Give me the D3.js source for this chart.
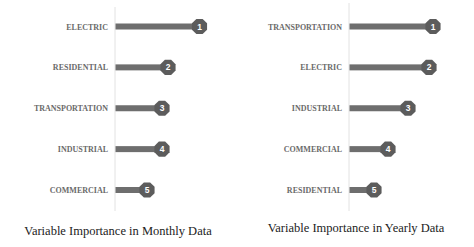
<!DOCTYPE html>
<html>
<head>
<meta charset="utf-8">
<script src="https://cdn.jsdelivr.net/npm/d3@7"></script>
<style>
  html, body { margin: 0; padding: 0; background: #fff; }
  svg { display: block; }
</style>
</head>
<body>
<svg id="chart" width="474" height="247"></svg>
<script>
// Variable importance, monthly model
const monthlyVars = ["ELECTRIC", "RESIDENTIAL", "TRANSPORTATION", "INDUSTRIAL", "COMMERCIAL"];
const monthlyScores = [84.5, 53, 47, 47, 32];
const monthlyRanks = [1, 2, 3, 4, 5];

// Variable importance, yearly model
const yearlyVars = ["TRANSPORTATION", "ELECTRIC", "INDUSTRIAL", "COMMERCIAL", "RESIDENTIAL"];
const yearlyScores = [84, 80, 59, 39, 25];
const yearlyRanks = [1, 2, 3, 4, 5];

const titles = ["Variable Importance in Monthly Data", "Variable Importance in Yearly Data"];

const svg = d3.select("#chart");

const panels = [
  { vars: monthlyVars, scores: monthlyScores, ranks: monthlyRanks, title: titles[0],
    axisX: 115, top: 7, bottom: 211, titleX: 118, titleY: 235 },
  { vars: yearlyVars, scores: yearlyScores, ranks: yearlyRanks, title: titles[1],
    axisX: 349, top: 3, bottom: 211, titleX: 356, titleY: 232 }
];

// regular octagon points around (0,0)
function octagon(r) {
  const pts = [];
  for (let i = 0; i < 8; i++) {
    const a = Math.PI / 8 + i * Math.PI / 4;
    pts.push([r * Math.cos(a), r * Math.sin(a)]);
  }
  return pts.map(p => p.join(",")).join(" ");
}

panels.forEach(p => {
  const g = svg.append("g");
  const x = d3.scaleLinear().domain([0, 100]).range([p.axisX, p.axisX + 100]);
  const y = d3.scalePoint().domain(p.vars).range([26.5, 190]);

  // vertical baseline
  g.append("line")
    .attr("x1", p.axisX).attr("x2", p.axisX)
    .attr("y1", p.top).attr("y2", p.bottom)
    .attr("stroke", "#e2e2e2").attr("stroke-width", 1);

  const rows = p.vars.map((v, i) => ({ name: v, score: p.scores[i], rank: p.ranks[i] }));

  // category labels
  g.selectAll("text.lab").data(rows).join("text")
    .attr("class", "lab")
    .attr("x", p.axisX - 7)
    .attr("y", d => y(d.name) + 3)
    .attr("text-anchor", "end")
    .attr("font-family", "'Liberation Serif', 'Times New Roman', serif")
    .attr("font-weight", "bold")
    .attr("font-size", 8)
    .attr("fill", "#6a6a6a")
    .text(d => d.name);

  // stems
  g.selectAll("rect.stem").data(rows).join("rect")
    .attr("class", "stem")
    .attr("x", p.axisX + 0.5)
    .attr("y", d => y(d.name) - 3)
    .attr("width", d => x(d.score) - p.axisX - 0.5)
    .attr("height", 6)
    .attr("fill", "#6e6e6e");

  // octagon heads
  const heads = g.selectAll("g.head").data(rows).join("g")
    .attr("class", "head")
    .attr("transform", d => `translate(${x(d.score)},${y(d.name)})`);
  heads.append("polygon")
    .attr("points", octagon(8.2))
    .attr("fill", "#5c5c5c");
  heads.append("text")
    .attr("text-anchor", "middle")
    .attr("y", 3)
    .attr("font-family", "'Liberation Sans', Arial, sans-serif")
    .attr("font-weight", "bold")
    .attr("font-size", 8.5)
    .attr("fill", "#fff")
    .text(d => d.rank);

  // panel title
  g.append("text")
    .attr("x", p.titleX).attr("y", p.titleY)
    .attr("text-anchor", "middle")
    .attr("font-family", "'Liberation Serif', 'Times New Roman', serif")
    .attr("font-size", 12.5)
    .attr("fill", "#222")
    .text(p.title);
});
</script>
</body>
</html>
